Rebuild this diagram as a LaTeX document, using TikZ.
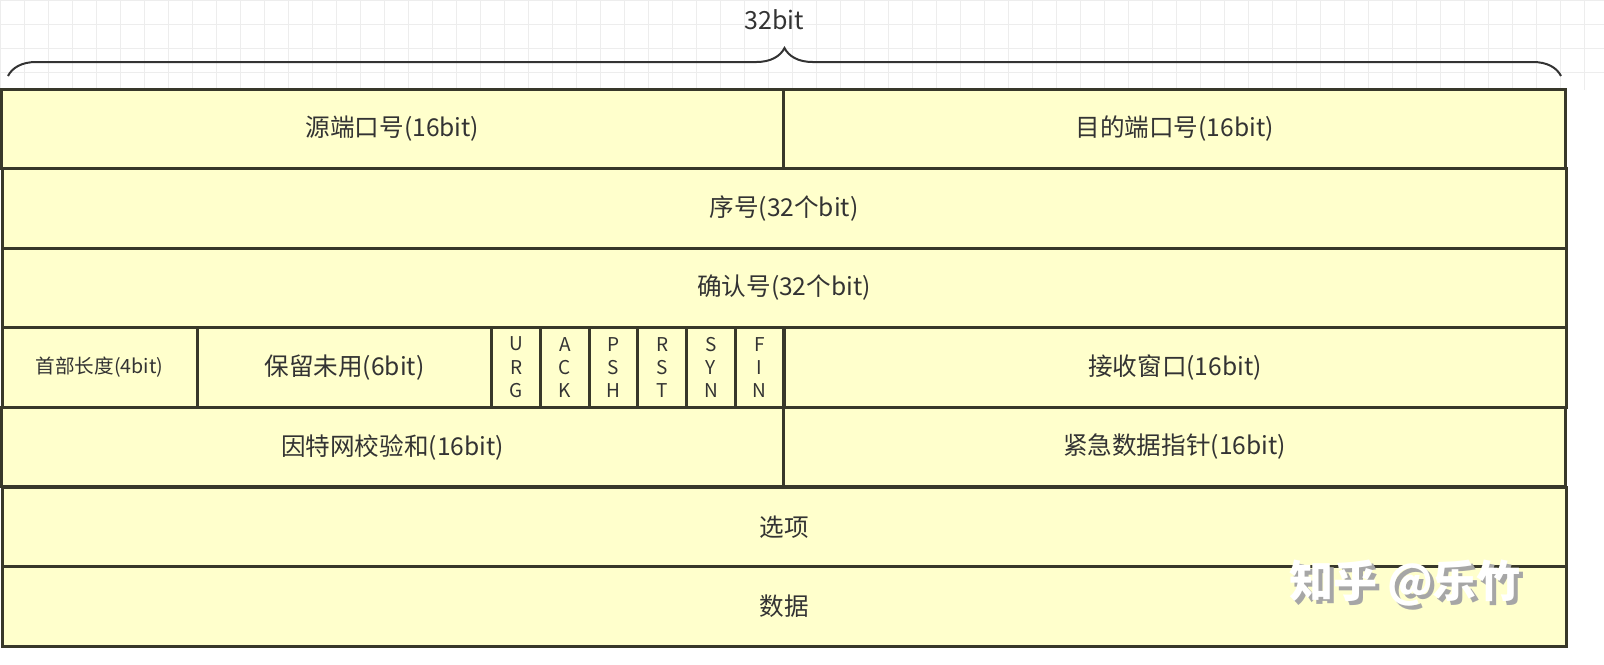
\documentclass[tikz,border=0pt]{standalone}
\usepackage{fontspec}
\setmainfont{Noto Sans CJK SC}
\usetikzlibrary{decorations.pathreplacing}
\definecolor{fieldfill}{HTML}{FFFFCC}
\definecolor{fieldline}{HTML}{38382A}
\definecolor{textgray}{HTML}{333333}
\newcommand{\shadowtext}[1]{\rlap{\hspace{2pt}\raisebox{-2pt}{\color{gray!70}#1}}#1}
\tikzstyle{field} = [rectangle, draw=fieldline, line width=1.5pt, fill=fieldfill, inner sep=0pt, text=textgray, font=\fontsize{12.3}{14}\selectfont, minimum height=39.75pt]
\tikzstyle{halffield} = [field, minimum width=391pt]
\tikzstyle{fullfield} = [field, minimum width=782pt]
\tikzstyle{flag} = [field, minimum width=24.33pt, align=center, font=\fontsize{9.5}{11.7}\selectfont]
\tikzstyle{gridline} = [draw=gray!14, line width=0.5pt]
\tikzstyle{bracket} = [draw=textgray, line width=1pt, decorate, decoration={brace, amplitude=14pt}]

\begin{document}
\begin{tikzpicture}[x=0.5pt, y=-0.5pt]
\useasboundingbox (0,0) rectangle (1604,664);
\draw [gridline, step=12pt] (0,0) grid (1604,90);

% 32bit brace
\coordinate (braceL) at (8,76);
\coordinate (braceR) at (1561,76);
\draw [bracket] (braceL) -- (braceR);
\node (width) [text=textgray, font=\fontsize{12.5}{14}\selectfont] at (774,20) {32bit};

% rows
\node (srcPort) [halffield] at (392.5,129) {源端口号(16bit)};
\node (dstPort) [halffield] at (1174.5,129) {目的端口号(16bit)};
\node (seqNum) [fullfield] at (784,208.5) {序号(32个bit)};
\node (ackNum) [fullfield] at (784,288) {确认号(32个bit)};
\node (hdrLen) [field, minimum width=97.5pt, font=\fontsize{9.8}{11}\selectfont] at (99.5,367.5) {首部长度(4bit)};
\node (reserved) [field, minimum width=147.5pt] at (344.5,367.5) {保留未用(6bit)};
\foreach \name/\txt [count=\i from 0] in {urg/U\\R\\G, ack/A\\C\\K, psh/P\\S\\H, rst/R\\S\\T, syn/S\\Y\\N, fin/F\\I\\N}
  \node (\name) [flag] at (516.3+48.67*\i,367.5) {\txt};
\node (window) [halffield] at (1175,367.5) {接收窗口(16bit)};
\node (checksum) [halffield] at (392.5,447) {因特网校验和(16bit)};
\node (urgPtr) [halffield] at (1174.5,447) {紧急数据指针(16bit)};
\node (options) [fullfield] at (784,527) {选项};
\node (data) [fullfield] at (784,606.5) {数据};

% watermark
\node (watermark) [text=white, font=\fontsize{22}{24}\selectfont\bfseries] at (1405,585) {\shadowtext{知乎 @乐竹}};

\end{tikzpicture}
\end{document}
